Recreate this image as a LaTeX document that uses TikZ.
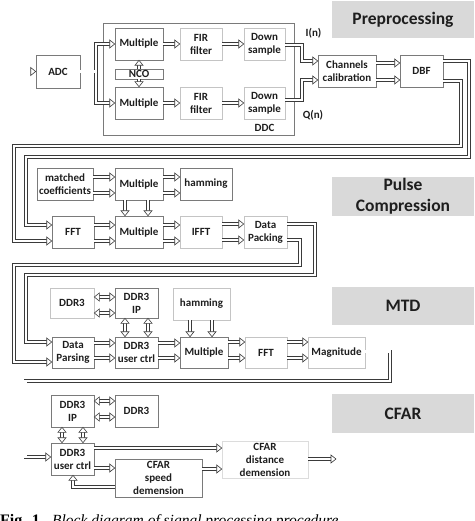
\documentclass[tikz,border=0pt]{standalone}
\usepackage{fontspec}
\setmainfont{Carlito}
\newfontfamily\capfont{Liberation Serif}
\usetikzlibrary{decorations.markings}
\definecolor{lc}{HTML}{3A3A3A}
\definecolor{bc}{HTML}{7A7A7A}
\definecolor{lb}{HTML}{C4C4C4}
\definecolor{hd}{HTML}{D9D9D9}
\definecolor{tc}{HTML}{1E1E1E}
\newcommand\hArrowHead{\pgfpathmoveto{\pgfpointorigin}\pgfpathlineto{\pgfpoint{-5pt}{4pt}}\pgfpathlineto{\pgfpoint{-5pt}{-4pt}}\pgfpathclose\pgfsetfillcolor{white}\pgfsetstrokecolor{lc}\pgfsetlinewidth{0.6pt}\pgfusepath{fill,stroke}}
\newcommand\hArrowBack{\pgfpathmoveto{\pgfpointorigin}\pgfpathlineto{\pgfpoint{5pt}{4pt}}\pgfpathlineto{\pgfpoint{5pt}{-4pt}}\pgfpathclose\pgfsetfillcolor{white}\pgfsetstrokecolor{lc}\pgfsetlinewidth{0.6pt}\pgfusepath{fill,stroke}}
\tikzset{
 box/.style={draw=bc, line width=0.6pt, fill=white, inner sep=0pt, align=center, text=tc, font=\fontsize{11}{13}\selectfont\bfseries},
 lbox/.style={box, draw=lb},
 hdbox/.style={fill=hd, draw=none, inner sep=0pt, align=center, text=tc, font=\fontsize{17.5}{21}\selectfont\bfseries},
 lbl/.style={inner sep=0pt, text=tc, font=\fontsize{11}{13}\selectfont\bfseries},
 ha/.style={draw=lc, line width=0.6pt, double=white, double distance=2.4pt, shorten >=3pt,
   postaction={decorate, decoration={markings, mark=at position 1 with {\hArrowHead}}}},
 hb/.style={ha, shorten <=3pt,
   postaction={decorate, decoration={markings, mark=at position 0 with {\hArrowBack}}}},
}
\begin{document}
\begin{tikzpicture}[x=1pt,y=-1pt]
\useasboundingbox (0,0) rectangle (474,521);
% headings
\node[hdbox, minimum width=142, minimum height=37] (h1) at (403,19.5) {Preprocessing};
\node[hdbox, minimum width=142, minimum height=39] (h2) at (403,196.5) {Pulse\\Compression};
\node[hdbox, minimum width=142, minimum height=38] (h3) at (403,306) {MTD};
\node[hdbox, minimum width=142, minimum height=39] (h4) at (403,413.5) {CFAR};
% ---------- Preprocessing ----------
\node[draw=bc, line width=0.6pt, minimum width=191, minimum height=112, inner sep=0pt] (ddc) at (198.5,79) {};
\node[box, minimum width=44, minimum height=33] (adc) at (58,71.5) {ADC};
\node[box, minimum width=48, minimum height=32] (mul1) at (139,44) {Multiple};
\node[box, minimum width=48, minimum height=10] (nco) at (139,74) {NCO};
\node[box, minimum width=48, minimum height=32] (mul2) at (139,103) {Multiple};
\node[lbox, minimum width=42, minimum height=32] (fir1) at (201,44) {FIR\\filter};
\node[lbox, minimum width=42, minimum height=32] (fir2) at (201,103) {FIR\\filter};
\node[lbox, minimum width=41, minimum height=32] (ds1) at (264.5,44) {Down\\sample};
\node[lbox, minimum width=41, minimum height=32] (ds2) at (264.5,103) {Down\\sample};
\node[lbl] (ddclbl) at (264.5,127.5) {DDC};
\node[box, minimum width=58, minimum height=32] (cc) at (347,71) {Channels\\calibration};
\node[box, minimum width=43, minimum height=32] (dbf) at (421.5,71) {DBF};
\node[lbl] (iN) at (313.5,33) {I(n)};
\node[lbl] (qN) at (313,115) {Q(n)};
\coordinate (in) at (13,71.5);
\draw[ha] (in) -- (adc.west);
\draw[ha] (adc.east) -- (96,71.5) |- (mul1.west);
\draw[ha] (adc.east) -- (96,71.5) |- (mul2.west);
\draw[ha] (nco.north) -- (mul1.south);
\draw[ha] (nco.south) -- (mul2.north);
\draw[ha] (mul1.east) -- (fir1.west);
\draw[ha] (mul2.east) -- (fir2.west);
\draw[ha] (fir1.east) -- (ds1.west);
\draw[ha] (fir2.east) -- (ds2.west);
\draw[ha] (ds1.east |- 0,45) -- (302,45) |- (cc.west |- 0,61);
\draw[ha] (ds2.east |- 0,100) -- (302,100) |- (cc.west |- 0,80);
\draw[ha] (cc.east |- 0,63) -- (dbf.west |- 0,63);
\draw[ha] (cc.east |- 0,80) -- (dbf.west |- 0,80);
% ---------- Pulse compression ----------
\node[box, minimum width=56, minimum height=32] (mc) at (65,184) {matched\\coefficients};
\node[box, minimum width=48, minimum height=32] (m3) at (139,184) {Multiple};
\node[box, minimum width=52, minimum height=32] (ham1) at (206,184) {hamming};
\node[box, minimum width=42, minimum height=32] (fft1) at (73,232) {FFT};
\node[box, minimum width=48, minimum height=32] (m4) at (139,232) {Multiple};
\node[lbox, minimum width=42, minimum height=32] (ifft) at (201,232) {IFFT};
\node[lbox, minimum width=43, minimum height=32] (dp) at (265.5,232) {Data\\Packing};
\draw[ha] (dbf.east |- 0,61) -- (469,61) -- (469,157) -- (26,157) -- (26,225) -- (fft1.west |- 0,225);
\draw[ha] (dbf.east |- 0,81) -- (461,81) -- (461,146) -- (14,146) -- (14,241) -- (fft1.west |- 0,241);
\draw[ha] (mc.east |- 0,177) -- (m3.west |- 0,177);
\draw[ha] (mc.east |- 0,193) -- (m3.west |- 0,193);
\draw[ha] (m3.east |- 0,177) -- (ham1.west |- 0,177);
\draw[ha] (m3.east |- 0,193) -- (ham1.west |- 0,193);
\draw[ha] (m3.south -| 125,0) -- (m4.north -| 125,0);
\draw[ha] (m3.south -| 148,0) -- (m4.north -| 148,0);
\draw[ha] (fft1.east |- 0,225) -- (m4.west |- 0,225);
\draw[ha] (fft1.east |- 0,241) -- (m4.west |- 0,241);
\draw[ha] (m4.east |- 0,225) -- (ifft.west |- 0,225);
\draw[ha] (m4.east |- 0,241) -- (ifft.west |- 0,241);
\draw[ha] (ifft.east |- 0,224) -- (dp.west |- 0,224);
\draw[ha] (ifft.east |- 0,240) -- (dp.west |- 0,240);
% ---------- MTD ----------
\node[lbox, minimum width=44, minimum height=30] (ddr1) at (72,303) {DDR3};
\node[box, minimum width=43, minimum height=30] (ddrip1) at (136.5,303) {DDR3\\IP};
\node[lbox, minimum width=57, minimum height=32] (ham2) at (201.5,304) {hamming};
\node[box, minimum width=42, minimum height=31] (dpar) at (73,352.5) {Data\\Parsing};
\node[box, minimum width=43, minimum height=31] (uc1) at (136.5,352.5) {DDR3\\user ctrl};
\node[box, minimum width=48, minimum height=31] (m5) at (204,352.5) {Multiple};
\node[lbox, minimum width=42, minimum height=31] (fft2) at (266,352.5) {FFT};
\node[lbox, minimum width=57, minimum height=31] (mag) at (336.5,352.5) {Magnitude};
\draw[ha] (dp.east |- 0,224) -- (315,224) -- (315,275) -- (26,275) -- (26,342) -- (dpar.west |- 0,342);
\draw[ha] (dp.east |- 0,240) -- (300,240) -- (300,265) -- (14,265) -- (14,362) -- (dpar.west |- 0,362);
\draw[hb] (ddr1.east |- 0,297) -- (ddrip1.west |- 0,297);
\draw[hb] (ddr1.east |- 0,313) -- (ddrip1.west |- 0,313);
\draw[hb] (ddrip1.south -| 125,0) -- (uc1.north -| 125,0);
\draw[hb] (ddrip1.south -| 148,0) -- (uc1.north -| 148,0);
\draw[ha] (ham2.south -| 190,0) -- (m5.north -| 190,0);
\draw[ha] (ham2.south -| 212,0) -- (m5.north -| 212,0);
\draw[ha] (dpar.east |- 0,343) -- (uc1.west |- 0,343);
\draw[ha] (dpar.east |- 0,358) -- (uc1.west |- 0,358);
\draw[ha] (uc1.east |- 0,343) -- (m5.west |- 0,343);
\draw[ha] (uc1.east |- 0,358) -- (m5.west |- 0,358);
\draw[ha] (m5.east |- 0,342) -- (fft2.west |- 0,342);
\draw[ha] (m5.east |- 0,358) -- (fft2.west |- 0,358);
\draw[ha] (fft2.east |- 0,342) -- (mag.west |- 0,342);
\draw[ha] (fft2.east |- 0,358) -- (mag.west |- 0,358);
% ---------- CFAR ----------
\node[box, minimum width=43, minimum height=32] (ddrip2) at (72.5,411) {DDR3\\IP};
\node[box, minimum width=43, minimum height=32] (ddr2) at (136.5,411) {DDR3};
\node[box, minimum width=43, minimum height=32] (uc2) at (72.5,459) {DDR3\\user ctrl};
\node[box, minimum width=87, minimum height=38] (cs) at (158.5,478) {CFAR\\speed\\demension};
\node[box, draw=lb!60, minimum width=86, minimum height=37] (cd) at (265,459.5) {CFAR\\distance\\demension};
\coordinate (out) at (336,459);
\draw[ha] (mag.east |- 0,351.5) -- (390,351.5) -- (390,381) -- (25.5,381) -- (25.5,457) -- (uc2.west |- 0,457);
\draw[hb] (ddrip2.east |- 0,401) -- (ddr2.west |- 0,401);
\draw[hb] (ddrip2.east |- 0,417) -- (ddr2.west |- 0,417);
\draw[hb] (ddrip2.south -| 62,0) -- (uc2.north -| 62,0);
\draw[hb] (ddrip2.south -| 83,0) -- (uc2.north -| 83,0);
\draw[ha] (uc2.east |- 0,448) -- (cd.west |- 0,448);
\draw[ha] (uc2.east |- 0,468) -- (cs.west |- 0,468);
\draw[ha] (cs.east |- 0,469) -- (cd.west |- 0,469);
\draw[ha] (cs.west |- 0,487) -- (73,487) -- (uc2.south -| 73,0);
\draw[ha] (cd.east |- 0,459) -- (out);
% caption (cut by the lower edge, as in the reference)
\node[anchor=base west, inner sep=0pt, font=\capfont\fontsize{16}{18}\selectfont\bfseries] (figno) at (0,525) {Fig. 1.};
\node[anchor=base west, inner sep=0pt, font=\capfont\fontsize{15.5}{18}\selectfont\itshape] (cap) at (52,525) {Block diagram of signal processing procedure};
\end{tikzpicture}
\end{document}
